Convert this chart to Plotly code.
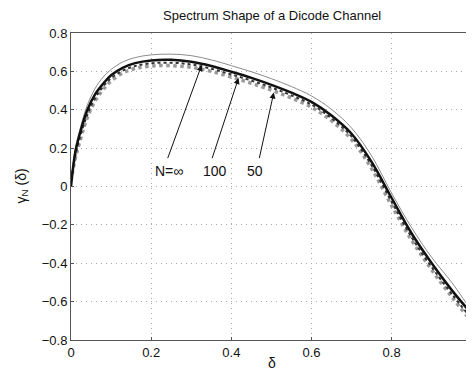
import plotly.graph_objects as go

delta = [0, 0.01, 0.02, 0.04, 0.06, 0.08, 0.1, 0.13, 0.16, 0.2, 0.25, 0.3, 0.35,
         0.4, 0.45, 0.5, 0.55, 0.6, 0.65, 0.7, 0.75, 0.8, 0.85, 0.9, 0.95, 0.99]

upper = [0.02, 0.19, 0.28, 0.42, 0.51, 0.57, 0.61, 0.65, 0.672, 0.686, 0.69, 0.682, 0.66,
         0.63, 0.598, 0.562, 0.521, 0.472, 0.402, 0.305, 0.16, -0.035, -0.215, -0.37, -0.50, -0.62]

n_inf = [0.0, 0.17, 0.26, 0.395, 0.48, 0.535, 0.58, 0.62, 0.643, 0.657, 0.66, 0.65, 0.628,
         0.598, 0.566, 0.53, 0.489, 0.441, 0.37, 0.275, 0.128, -0.06, -0.245, -0.40, -0.54, -0.64]

n_100 = [0.03, 0.15, 0.24, 0.37, 0.46, 0.52, 0.565, 0.605, 0.628, 0.642, 0.645, 0.636, 0.614,
         0.584, 0.552, 0.516, 0.475, 0.427, 0.356, 0.26, 0.11, -0.08, -0.265, -0.42, -0.56, -0.665]

n_50 = [0.03, 0.14, 0.22, 0.355, 0.445, 0.505, 0.55, 0.592, 0.615, 0.628, 0.63, 0.621, 0.6,
        0.57, 0.538, 0.502, 0.461, 0.413, 0.343, 0.245, 0.093, -0.1, -0.28, -0.435, -0.575, -0.68]

label_text = ["N=\u221e", "100", "50"]
label_x = [0.244, 0.359, 0.46]
label_y = [0.08, 0.08, 0.08]
tip_x = [0.326, 0.418, 0.506]
tip_y = [0.633, 0.565, 0.49]
tail_x = [0.24, 0.351, 0.469]
tail_y = [0.14, 0.14, 0.14]

x_ticks = [0, 0.2, 0.4, 0.6, 0.8, 1]
x_tick_text = ["0", "0.2", "0.4", "0.6", "0.8", "1"]
y_ticks = [-0.8, -0.6, -0.4, -0.2, 0, 0.2, 0.4, 0.6, 0.8]
y_tick_text = ["\u22120.8", "\u22120.6", "\u22120.4", "\u22120.2", "0", "0.2", "0.4", "0.6", "0.8"]

FONT = "Liberation Sans, Arial, sans-serif"

fig = go.Figure()
fig.add_trace(go.Scatter(x=delta, y=upper, mode="lines", line=dict(color="#8c8c8c", width=1, shape="spline"), showlegend=False))
fig.add_trace(go.Scatter(x=delta, y=n_50, mode="lines", line=dict(color="#999999", width=3.5, dash="dot", shape="spline"), showlegend=False))
fig.add_trace(go.Scatter(x=delta, y=n_100, mode="lines", line=dict(color="#333333", width=2, dash="dot", shape="spline"), showlegend=False))
fig.add_trace(go.Scatter(x=delta, y=n_inf, mode="lines", line=dict(color="#111111", width=2.5, shape="spline"), showlegend=False))

annotations = []
for t, lx, ly, tx, ty, ax, ay in zip(label_text, label_x, label_y, tip_x, tip_y, tail_x, tail_y):
    annotations.append(dict(x=tx, y=ty, ax=ax, ay=ay, xref="x", yref="y", axref="x", ayref="y",
                            text="", showarrow=True, arrowhead=2, arrowsize=1.2, arrowwidth=1,
                            arrowcolor="#111111"))
    annotations.append(dict(x=lx, y=ly, xref="x", yref="y", text=t, showarrow=False,
                            font=dict(family=FONT, size=14, color="#111111")))

annotations.append(dict(x=0.5, y=1, xref="paper", yref="paper", yshift=18, yanchor="middle",
                        text="Spectrum Shape of a Dicode Channel",
                        showarrow=False, font=dict(family=FONT, size=13, color="#111111")))
annotations.append(dict(x=0.5, y=0, xref="paper", yref="paper", yshift=-23, yanchor="middle", text="\u03b4",
                        showarrow=False, font=dict(family=FONT, size=14, color="#111111")))
annotations.append(dict(x=0, y=0.5, xref="paper", yref="paper", xshift=-50, xanchor="center", yanchor="middle",
                        text="\u03b3<sub>N</sub> (\u03b4)",
                        textangle=-90, showarrow=False, font=dict(family=FONT, size=14, color="#111111")))

fig.update_layout(
    width=474, height=372,
    margin=dict(l=63, r=7, t=25, b=40),
    paper_bgcolor="white", plot_bgcolor="white",
    annotations=annotations,
    font=dict(family=FONT, size=13, color="#111111"),
)
common = dict(showline=True, linecolor="#555555", linewidth=1, mirror=True, ticks="inside", ticklen=3,
              tickcolor="#555555", showgrid=True, gridcolor="#aaaaaa", griddash="1px,4px", gridwidth=1,
              zeroline=False, ticklabeloverflow="allow")
fig.update_xaxes(range=[0, 1.0005], tickvals=x_ticks, ticktext=x_tick_text, **common)
fig.update_yaxes(range=[-0.8, 0.8], tickvals=y_ticks, ticktext=y_tick_text, **common)

fig.write_html("out.html")
